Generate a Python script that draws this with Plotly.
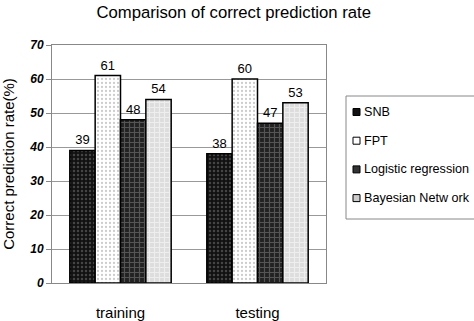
import plotly.graph_objects as go

categories = ["training", "testing"]
series_names = ["SNB", "FPT", "Logistic regression", "Bayesian Netw ork"]
snb = [39, 38]
fpt = [61, 60]
logreg = [48, 47]
bayes = [54, 53]
y_ticks = [0, 10, 20, 30, 40, 50, 60, 70]

values = [snb, fpt, logreg, bayes]
styles = [
    dict(bg="#111111", fg="#777777", shape=".", size=4, solidity=0.3, icon="#111111"),
    dict(bg="#ffffff", fg="#999999", shape=".", size=4, solidity=0.25, icon="#ffffff"),
    dict(bg="#222222", fg="#888888", shape="+", size=5, solidity=0.4, icon="#333333"),
    dict(bg="#dddddd", fg="#ffffff", shape="+", size=5, solidity=0.4, icon="#cccccc"),
]

FONT = "Arial, Liberation Sans, sans-serif"
L, R, T, B, W, H = 52, 148, 45, 38, 474, 321
PW, PH = W - L - R, H - T - B

def px_x(p):
    return (p - L) / PW

def px_y(p):
    return (H - B - p) / PH

fig = go.Figure()
for name, vals, st in zip(series_names, values, styles):
    fig.add_trace(go.Bar(
        name=name, x=categories, y=vals,
        text=[str(v) for v in vals], textposition="outside",
        textfont=dict(family=FONT, size=13, color="black"),
        cliponaxis=False, showlegend=False,
        marker=dict(
            color=st["bg"],
            line=dict(color="black", width=1.5),
            pattern=dict(shape=st["shape"], bgcolor=st["bg"], fgcolor=st["fg"],
                         size=st["size"], solidity=st["solidity"], fillmode="overlay"),
        ),
    ))

# legend drawn as a box with swatches and labels
shapes = [dict(type="rect", xref="paper", yref="paper",
               x0=px_x(346), x1=px_x(490), y0=px_y(219), y1=px_y(96),
               line=dict(color="#888888", width=1), fillcolor="white", layer="above")]
annotations = []
for i, (name, st) in enumerate(zip(series_names, styles)):
    cy = 112 + i * 28.7
    shapes.append(dict(type="rect", xref="paper", yref="paper",
                       x0=px_x(353), x1=px_x(360), y0=px_y(cy + 3.5), y1=px_y(cy - 3.5),
                       line=dict(color="black", width=1), fillcolor=st["icon"], layer="above"))
    annotations.append(dict(text=name, xref="paper", yref="paper", x=px_x(362), y=px_y(cy),
                            xanchor="left", yanchor="middle", showarrow=False,
                            font=dict(family=FONT, size=12.6, color="black")))

fig.update_layout(
    width=W, height=H,
    margin=dict(l=L, r=R, t=T, b=B, autoexpand=False),
    paper_bgcolor="white", plot_bgcolor="white",
    barmode="group", bargap=0.26, bargroupgap=0,
    font=dict(family=FONT, color="black"),
    title=dict(text="Comparison of correct prediction rate", x=0.493, xanchor="center",
               y=0.962, yanchor="middle", font=dict(family=FONT, size=16.7, color="black")),
    shapes=shapes, annotations=annotations,
    showlegend=False,
)
fig.update_xaxes(showline=True, linecolor="#888888", linewidth=1, mirror=True,
                 ticks="", ticklabelstandoff=16,
                 tickfont=dict(family=FONT, size=15, color="black"))
fig.update_yaxes(range=[0, 70], tickvals=y_ticks, showgrid=True, gridcolor="#999999", gridwidth=1,
                 showline=True, linecolor="#888888", linewidth=1, mirror=True,
                 ticks="outside", ticklen=5, tickcolor="#888888",
                 tickfont=dict(family=FONT, size=12, color="black", weight="bold", style="italic"),
                 title=dict(text="Correct prediction rate(%)", standoff=12,
                            font=dict(family=FONT, size=15, color="black")),
                 zeroline=False)

fig.write_html("out.html")
